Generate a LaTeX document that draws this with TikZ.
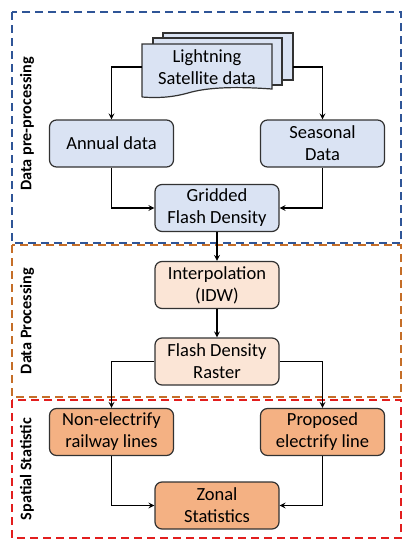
\documentclass[tikz,border=0pt]{standalone}
\usepackage{fontspec}
\setmainfont{Carlito}
\usepackage{tikz}

\definecolor{boxblue}{RGB}{218,227,243}
\definecolor{boxpeach}{RGB}{251,229,214}
\definecolor{boxorange}{RGB}{244,177,131}
\definecolor{frameblue}{RGB}{47,85,151}
\definecolor{frameorange}{RGB}{197,110,40}
\definecolor{framered}{RGB}{226,30,30}
\definecolor{edge}{RGB}{50,50,50}

\begin{document}
\begin{tikzpicture}[x=1pt,y=-1pt,
  proc/.style={draw=edge,line width=1.2pt,rounded corners=7pt,minimum width=124pt,
    minimum height=47pt,align=center,inner sep=1pt,font=\fontsize{18.5}{22}\selectfont},
  arr/.style={line width=1.6pt,-stealth},
  frame/.style={line width=1.6pt,dash pattern=on 8pt off 5pt},
  side/.style={rotate=90,font=\fontsize{16.2}{20}\selectfont\bfseries}]
  \useasboundingbox (0,0) rectangle (412,550);
  %\draw[thin,gray!40] (0,0) grid[step=50] (412,550);

  % frames
  \draw[frame,frameblue] (12,12) rectangle (401,243);
  \draw[frame,frameorange] (12,245) rectangle (401,397);
  \draw[frame,framered] (12,400) rectangle (401,538);
  \node[side] (pre) at (27,124) {Data pre-processing};
  \node[side] (proc) at (27,321) {Data Processing};
  \node[side] (spat) at (27,469) {Spatial Statistic};

  % lightning data sheets
  \draw[edge,line width=1.2pt,fill=boxblue] (163,33) rectangle (293,80);
  \draw[edge,line width=1.2pt,fill=boxblue] (153,38) rectangle (282,85);
  \draw[edge,line width=1.2pt,fill=boxblue] (142,97) -- (142,44) -- (272,44) -- (272,89)
    .. controls (230,86) and (205,88) .. (188,93) .. controls (170,98) and (155,98) .. (142,97);
  \node[align=center,minimum width=130pt,minimum height=46pt,inner sep=0pt,
    font=\fontsize{18.5}{22}\selectfont] (sat) at (207,67) {Lightning\\Satellite data};
  \coordinate (satR) at (293,67);

  \node[proc,fill=boxblue] (annual) at (111.5,143.5) {Annual data};
  \node[proc,fill=boxblue] (season) at (322.5,143.5) {Seasonal\\Data};
  \node[proc,fill=boxblue] (grid) at (217,208) {Gridded\\Flash Density};
  \node[proc,fill=boxpeach] (idw) at (217,285) {Interpolation\\(IDW)};
  \node[proc,fill=boxpeach] (raster) at (217,361.5) {Flash Density\\Raster};
  \node[proc,fill=boxorange] (nonel) at (111.5,432) {Non-electrify\\railway lines};
  \node[proc,fill=boxorange] (propel) at (322.5,432) {Proposed\\electrify line};
  \node[proc,fill=boxorange] (zonal) at (217,505.5) {Zonal\\Statistics};

  \draw[arr] (sat.west) -| (annual.north);
  \draw[arr] (satR) -| (season.north);
  \draw[arr] (annual.south) |- (grid.west);
  \draw[arr] (season.south) |- (grid.east);
  \draw[arr] (grid) -- (idw);
  \draw[arr] (idw) -- (raster);
  \draw[arr] (raster.west) -| (nonel.north);
  \draw[arr] (raster.east) -| (propel.north);
  \draw[arr] (nonel.south) |- (zonal.west);
  \draw[arr] (propel.south) |- (zonal.east);
\end{tikzpicture}
\end{document}
